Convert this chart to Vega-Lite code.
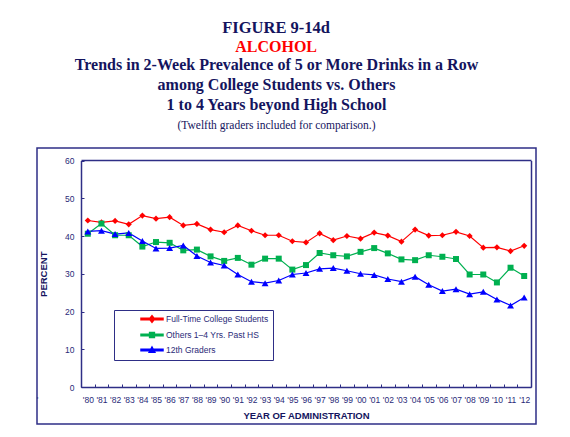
{
  "$schema": "https://vega.github.io/schema/vega-lite/v6.json",
  "padding": {"left": 35, "right": 36, "top": 20, "bottom": 13},
  "background": "white",
  "title": {
    "text": "FIGURE 9-14d",
    "subtitle": "ALCOHOL",
    "anchor": "middle",
    "dx": -10,
    "font": "Liberation Serif",
    "fontSize": 16.5,
    "fontWeight": "bold",
    "color": "#14145e",
    "subtitleFont": "Liberation Serif",
    "subtitleFontSize": 16,
    "subtitleFontWeight": "bold",
    "subtitleColor": "#ff0000",
    "subtitlePadding": 2,
    "offset": 1
  },
  "vconcat": [
    {
      "width": 499,
      "height": 276,
      "title": {
        "text": [
          "Trends in 2-Week Prevalence of 5 or More Drinks in a Row",
          "among College Students vs. Others",
          "1 to 4 Years beyond High School"
        ],
        "subtitle": "(Twelfth graders included for comparison.)",
        "anchor": "middle",
        "dx": -10,
        "font": "Liberation Serif",
        "fontSize": 16,
        "fontWeight": "bold",
        "lineHeight": 20,
        "color": "#14145e",
        "subtitleFont": "Liberation Serif",
        "subtitleFontSize": 11.5,
        "subtitleColor": "#14145e",
        "subtitlePadding": 7,
        "offset": 17
      },
      "data": {
        "values": [
          {"year": 1980, "group": "Full-Time College Students", "pct": 44.1},
          {"year": 1981, "group": "Full-Time College Students", "pct": 43.6},
          {"year": 1982, "group": "Full-Time College Students", "pct": 44.0},
          {"year": 1983, "group": "Full-Time College Students", "pct": 43.1},
          {"year": 1984, "group": "Full-Time College Students", "pct": 45.4},
          {"year": 1985, "group": "Full-Time College Students", "pct": 44.6},
          {"year": 1986, "group": "Full-Time College Students", "pct": 45.0},
          {"year": 1987, "group": "Full-Time College Students", "pct": 42.8},
          {"year": 1988, "group": "Full-Time College Students", "pct": 43.2},
          {"year": 1989, "group": "Full-Time College Students", "pct": 41.7},
          {"year": 1990, "group": "Full-Time College Students", "pct": 41.0},
          {"year": 1991, "group": "Full-Time College Students", "pct": 42.8},
          {"year": 1992, "group": "Full-Time College Students", "pct": 41.4},
          {"year": 1993, "group": "Full-Time College Students", "pct": 40.2},
          {"year": 1994, "group": "Full-Time College Students", "pct": 40.2},
          {"year": 1995, "group": "Full-Time College Students", "pct": 38.6},
          {"year": 1996, "group": "Full-Time College Students", "pct": 38.3},
          {"year": 1997, "group": "Full-Time College Students", "pct": 40.7},
          {"year": 1998, "group": "Full-Time College Students", "pct": 38.9},
          {"year": 1999, "group": "Full-Time College Students", "pct": 40.0},
          {"year": 2000, "group": "Full-Time College Students", "pct": 39.3},
          {"year": 2001, "group": "Full-Time College Students", "pct": 40.9},
          {"year": 2002, "group": "Full-Time College Students", "pct": 40.1},
          {"year": 2003, "group": "Full-Time College Students", "pct": 38.5},
          {"year": 2004, "group": "Full-Time College Students", "pct": 41.7},
          {"year": 2005, "group": "Full-Time College Students", "pct": 40.1},
          {"year": 2006, "group": "Full-Time College Students", "pct": 40.2},
          {"year": 2007, "group": "Full-Time College Students", "pct": 41.1},
          {"year": 2008, "group": "Full-Time College Students", "pct": 40.0},
          {"year": 2009, "group": "Full-Time College Students", "pct": 36.9},
          {"year": 2010, "group": "Full-Time College Students", "pct": 37.0},
          {"year": 2011, "group": "Full-Time College Students", "pct": 36.0},
          {"year": 2012, "group": "Full-Time College Students", "pct": 37.4},
          {"year": 1980, "group": "Others 1–4 Yrs. Past HS", "pct": 40.6},
          {"year": 1981, "group": "Others 1–4 Yrs. Past HS", "pct": 43.3},
          {"year": 1982, "group": "Others 1–4 Yrs. Past HS", "pct": 40.2},
          {"year": 1983, "group": "Others 1–4 Yrs. Past HS", "pct": 40.2},
          {"year": 1984, "group": "Others 1–4 Yrs. Past HS", "pct": 37.2},
          {"year": 1985, "group": "Others 1–4 Yrs. Past HS", "pct": 38.4},
          {"year": 1986, "group": "Others 1–4 Yrs. Past HS", "pct": 38.2},
          {"year": 1987, "group": "Others 1–4 Yrs. Past HS", "pct": 36.2},
          {"year": 1988, "group": "Others 1–4 Yrs. Past HS", "pct": 36.4},
          {"year": 1989, "group": "Others 1–4 Yrs. Past HS", "pct": 34.6},
          {"year": 1990, "group": "Others 1–4 Yrs. Past HS", "pct": 33.4},
          {"year": 1991, "group": "Others 1–4 Yrs. Past HS", "pct": 34.2},
          {"year": 1992, "group": "Others 1–4 Yrs. Past HS", "pct": 32.4},
          {"year": 1993, "group": "Others 1–4 Yrs. Past HS", "pct": 34.0},
          {"year": 1994, "group": "Others 1–4 Yrs. Past HS", "pct": 34.0},
          {"year": 1995, "group": "Others 1–4 Yrs. Past HS", "pct": 31.1},
          {"year": 1996, "group": "Others 1–4 Yrs. Past HS", "pct": 32.3},
          {"year": 1997, "group": "Others 1–4 Yrs. Past HS", "pct": 35.5},
          {"year": 1998, "group": "Others 1–4 Yrs. Past HS", "pct": 34.9},
          {"year": 1999, "group": "Others 1–4 Yrs. Past HS", "pct": 34.6},
          {"year": 2000, "group": "Others 1–4 Yrs. Past HS", "pct": 35.8},
          {"year": 2001, "group": "Others 1–4 Yrs. Past HS", "pct": 36.8},
          {"year": 2002, "group": "Others 1–4 Yrs. Past HS", "pct": 35.4},
          {"year": 2003, "group": "Others 1–4 Yrs. Past HS", "pct": 33.8},
          {"year": 2004, "group": "Others 1–4 Yrs. Past HS", "pct": 33.6},
          {"year": 2005, "group": "Others 1–4 Yrs. Past HS", "pct": 34.9},
          {"year": 2006, "group": "Others 1–4 Yrs. Past HS", "pct": 34.5},
          {"year": 2007, "group": "Others 1–4 Yrs. Past HS", "pct": 33.9},
          {"year": 2008, "group": "Others 1–4 Yrs. Past HS", "pct": 29.8},
          {"year": 2009, "group": "Others 1–4 Yrs. Past HS", "pct": 29.8},
          {"year": 2010, "group": "Others 1–4 Yrs. Past HS", "pct": 27.7},
          {"year": 2011, "group": "Others 1–4 Yrs. Past HS", "pct": 31.6},
          {"year": 2012, "group": "Others 1–4 Yrs. Past HS", "pct": 29.4},
          {"year": 1980, "group": "12th Graders", "pct": 41.2},
          {"year": 1981, "group": "12th Graders", "pct": 41.4},
          {"year": 1982, "group": "12th Graders", "pct": 40.5},
          {"year": 1983, "group": "12th Graders", "pct": 40.8},
          {"year": 1984, "group": "12th Graders", "pct": 38.7},
          {"year": 1985, "group": "12th Graders", "pct": 36.7},
          {"year": 1986, "group": "12th Graders", "pct": 36.8},
          {"year": 1987, "group": "12th Graders", "pct": 37.5},
          {"year": 1988, "group": "12th Graders", "pct": 34.7},
          {"year": 1989, "group": "12th Graders", "pct": 33.0},
          {"year": 1990, "group": "12th Graders", "pct": 32.2},
          {"year": 1991, "group": "12th Graders", "pct": 29.8},
          {"year": 1992, "group": "12th Graders", "pct": 27.9},
          {"year": 1993, "group": "12th Graders", "pct": 27.5},
          {"year": 1994, "group": "12th Graders", "pct": 28.2},
          {"year": 1995, "group": "12th Graders", "pct": 29.8},
          {"year": 1996, "group": "12th Graders", "pct": 30.2},
          {"year": 1997, "group": "12th Graders", "pct": 31.3},
          {"year": 1998, "group": "12th Graders", "pct": 31.5},
          {"year": 1999, "group": "12th Graders", "pct": 30.8},
          {"year": 2000, "group": "12th Graders", "pct": 30.0},
          {"year": 2001, "group": "12th Graders", "pct": 29.7},
          {"year": 2002, "group": "12th Graders", "pct": 28.6},
          {"year": 2003, "group": "12th Graders", "pct": 27.9},
          {"year": 2004, "group": "12th Graders", "pct": 29.2},
          {"year": 2005, "group": "12th Graders", "pct": 27.1},
          {"year": 2006, "group": "12th Graders", "pct": 25.4},
          {"year": 2007, "group": "12th Graders", "pct": 25.9},
          {"year": 2008, "group": "12th Graders", "pct": 24.6},
          {"year": 2009, "group": "12th Graders", "pct": 25.2},
          {"year": 2010, "group": "12th Graders", "pct": 23.2},
          {"year": 2011, "group": "12th Graders", "pct": 21.6},
          {"year": 2012, "group": "12th Graders", "pct": 23.7}
        ]
      },
      "layer": [
        {
          "mark": {"type": "line", "strokeWidth": 1.2},
          "encoding": {
            "x": {
              "field": "year",
              "type": "ordinal",
              "scale": {"type": "band", "range": [44, 494], "paddingInner": 0, "paddingOuter": 0},
              "axis": {
                "orient": "bottom",
                "offset": -37,
                "labelAngle": 0,
                "labelExpr": "\"'\" + substring(datum.label, 2)",
                "tickBand": "extent",
                "tickSize": -3,
                "tickColor": "#2e2e86",
                "labelPadding": 11,
                "title": "YEAR OF ADMINISTRATION",
                "titlePadding": 7
              }
            },
            "y": {
              "field": "pct",
              "type": "quantitative",
              "scale": {"domain": [0, 60], "range": [239, 12.5], "nice": false, "zero": true},
              "axis": {
                "orient": "left",
                "offset": -44,
                "values": [0, 10, 20, 30, 40, 50, 60],
                "tickSize": -3,
                "tickColor": "#2e2e86",
                "labelPadding": 10,
                "grid": false,
                "title": "PERCENT",
                "titlePadding": 16
              }
            },
            "color": {
              "field": "group",
              "type": "nominal",
              "scale": {
                "domain": ["Full-Time College Students", "Others 1–4 Yrs. Past HS", "12th Graders"],
                "range": ["#ff0000", "#00b050", "#0000ff"]
              },
              "legend": {
                "title": null,
                "orient": "none",
                "legendX": 77,
                "legendY": 162,
                "padding": 4,
                "strokeColor": "#2e2e86",
                "fillColor": "white",
                "symbolSize": 64,
                "symbolOffset": 29,
                "labelOffset": 9,
                "rowPadding": 3,
                "labelFont": "Liberation Sans",
                "labelFontSize": 8.5,
                "labelColor": "#2a2a78",
                "encode": {
                  "symbols": {
                    "update": {
                      "shape": {"signal": "datum.value === 'Full-Time College Students' ? 'M-2.75,-0.17H2.75V0.17H-2.75ZM0,-0.8L0.65,0L0,0.8L-0.65,0Z' : datum.value === '12th Graders' ? 'M-2.75,-0.17H2.75V0.17H-2.75ZM0,-0.75L0.7,0.55H-0.7Z' : 'M-2.75,-0.17H2.75V0.17H-2.75ZM-0.6,-0.6H0.6V0.6H-0.6Z'"},
                      "fill": {"signal": "scale('color', datum.value)"},
                      "stroke": {"signal": "scale('color', datum.value)"}
                    }
                  }
                }
              }
            }
          }
        },
        {
          "transform": [{"filter": {"field": "group", "equal": "Full-Time College Students"}}],
          "mark": {"type": "point", "shape": "diamond", "filled": true, "opacity": 1, "size": 38},
          "encoding": {
            "x": {
              "field": "year",
              "type": "ordinal",
              "axis": {
                "orient": "top",
                "offset": -12,
                "labels": false,
                "ticks": false,
                "title": null
              }
            },
            "y": {
              "field": "pct",
              "type": "quantitative",
              "axis": {
                "orient": "right",
                "offset": -5,
                "labels": false,
                "ticks": false,
                "grid": false,
                "title": null
              }
            },
            "color": {"field": "group", "type": "nominal", "legend": null}
          }
        },
        {
          "transform": [{"filter": {"field": "group", "equal": "Others 1–4 Yrs. Past HS"}}],
          "mark": {"type": "point", "shape": "square", "filled": true, "opacity": 1, "size": 36},
          "encoding": {
            "x": {"field": "year", "type": "ordinal", "axis": null},
            "y": {"field": "pct", "type": "quantitative", "axis": null},
            "color": {"field": "group", "type": "nominal", "legend": null}
          }
        },
        {
          "transform": [{"filter": {"field": "group", "equal": "12th Graders"}}],
          "mark": {"type": "point", "shape": "triangle-up", "filled": true, "opacity": 1, "size": 48},
          "encoding": {
            "x": {"field": "year", "type": "ordinal", "axis": null},
            "y": {"field": "pct", "type": "quantitative", "axis": null},
            "color": {"field": "group", "type": "nominal", "legend": null}
          }
        }
      ],
      "resolve": {"axis": {"x": "independent", "y": "independent"}}
    }
  ],
  "config": {
    "view": {"stroke": "#2e2e86", "strokeWidth": 1.5},
    "axis": {
      "domainColor": "#2e2e86",
      "domainWidth": 1.5,
      "labelFont": "Liberation Sans",
      "labelFontSize": 8.5,
      "labelColor": "#2a2a78",
      "titleFont": "Liberation Sans",
      "titleFontSize": 9.5,
      "titleFontWeight": "bold",
      "titleColor": "#14145e",
      "grid": false
    }
  }
}
